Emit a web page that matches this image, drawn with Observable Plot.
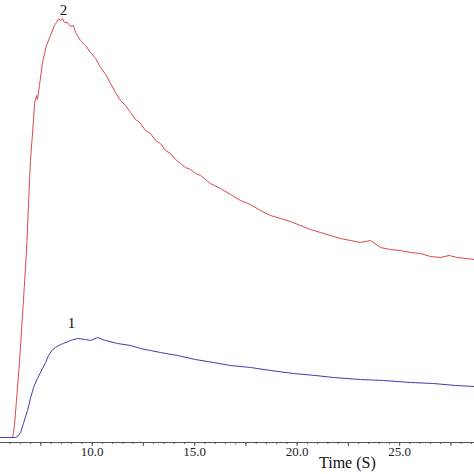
<!DOCTYPE html>
<html>
<head>
<meta charset="utf-8">
<script src="https://cdn.jsdelivr.net/npm/d3@7"></script>
<script src="https://cdn.jsdelivr.net/npm/@observablehq/plot@0.6"></script>
<style>
  html, body { margin: 0; padding: 0; background: #fff; }
  #chart svg { display: block; font-family: "Liberation Serif", "DejaVu Serif", serif !important; }
  #chart svg text { font-family: "Liberation Serif", "DejaVu Serif", serif !important; }
</style>
</head>
<body>
<div id="chart"></div>
<script>
// Curve 2 (red)
const redTime = [5.53, 6.12, 6.21, 6.31, 6.46, 6.65, 6.80, 6.99, 7.14, 7.19, 7.29, 7.33, 7.43, 7.58, 7.77, 7.97, 8.16, 8.26, 8.36, 8.46, 8.55, 8.65, 8.80, 8.94, 9.09, 9.19, 9.43, 9.68, 9.92, 10.17, 10.41, 10.66, 10.90, 11.14, 11.38, 11.63, 11.87, 12.12, 12.36, 12.60, 12.85, 13.09, 13.33, 13.58, 13.82, 14.07, 14.31, 14.55, 14.80, 15.04, 15.29, 15.77, 16.26, 16.75, 17.24, 17.72, 18.21, 18.70, 19.19, 19.67, 20.16, 20.65, 21.14, 21.63, 22.12, 22.60, 23.09, 23.58, 24.07, 24.55, 25.04, 25.53, 26.02, 26.51, 27.00, 27.41, 27.82, 28.24, 28.65];
const redValue = [0, 0, 12, 37, 77, 137, 187, 277, 317, 334, 342, 338, 352, 375, 392, 402, 412, 415, 419, 417, 419, 415, 415, 411, 412, 405, 397, 392, 385, 379, 370, 363, 354, 345, 337, 332, 325, 318, 314, 307, 304, 297, 294, 287, 284, 278, 274, 270, 268, 264, 262, 254, 249, 243, 237, 233, 227, 222, 219, 216, 212, 208, 205, 202, 199, 197, 195, 197, 190, 188, 187, 185, 184, 181, 180, 182, 180, 179, 178];

// Curve 1 (blue)
const blueTime = [5.53, 6.26, 6.41, 6.51, 6.65, 6.85, 6.99, 7.14, 7.33, 7.58, 7.73, 7.87, 8.07, 8.21, 8.46, 8.60, 8.94, 9.29, 9.68, 9.92, 10.26, 10.65, 11.24, 11.87, 12.36, 12.85, 13.33, 14.16, 15.04, 15.92, 16.75, 17.73, 18.70, 19.82, 20.90, 21.77, 23.09, 24.21, 25.53, 26.65, 27.73, 28.65];
const blueValue = [0, 0, 2, 5, 14, 27, 39, 50, 59, 69, 75, 82, 88, 90, 93, 94, 97, 99, 98, 97, 100, 97, 94, 92, 89, 87, 85, 82, 78, 75, 72, 70, 67, 64, 62, 60, 58, 57, 55, 54, 52, 51];

// Curve labels
const labelText = ["2", "1"];
const labelTime = [8.60, 8.99];
const labelValue = [427, 114];

// Axis
const xDomain = [5.53, 28.65];
const minorTicks = d3.range(6, 28.6, 0.5);
const majorTicks = [7.5, 10, 12.5, 15, 17.5, 20, 22.5, 25, 27.5];
const xTitle = "Time (S)";

const red = redTime.map((t, i) => ({t, v: redValue[i]}));
const blue = blueTime.map((t, i) => ({t, v: blueValue[i]}));
const labels = labelText.map((s, i) => ({s, t: labelTime[i], v: labelValue[i]}));

const chart = Plot.plot({
  width: 474,
  height: 474,
  marginLeft: 0,
  marginRight: 0,
  marginTop: 0,
  marginBottom: 32,
  style: {fontSize: "13px", background: "#fff", color: "#222"},
  x: {domain: xDomain},
  y: {domain: [-5, 437], axis: null},
  marks: [
    Plot.ruleY([-5], {stroke: "#555", strokeWidth: 1}),
    Plot.axisX(minorTicks, {tickSize: 2, tickFormat: () => "", label: null, stroke: "#555"}),
    Plot.axisX(majorTicks, {tickSize: 4, tickPadding: 0, label: null, stroke: "#555", fill: "#222",
      tickFormat: d => (d % 5 === 0 ? d.toFixed(1) : "")}),
    Plot.line(red, {x: "t", y: "v", stroke: "#e0454f", strokeWidth: 1}),
    Plot.line(blue, {x: "t", y: "v", stroke: "#3d3db0", strokeWidth: 1}),
    Plot.text(labels, {x: "t", y: "v", text: "s", fontSize: 15, fill: "#111"}),
    Plot.text([xTitle], {x: [22.45], frameAnchor: "bottom", dy: 25, fontSize: 16, fill: "#111"})
  ]
});
document.getElementById("chart").appendChild(chart);
</script>
</body>
</html>
